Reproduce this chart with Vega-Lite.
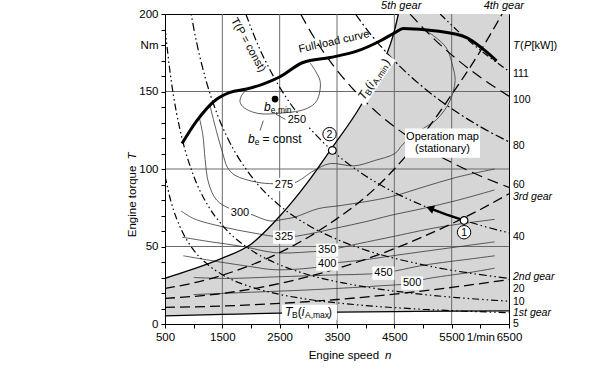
{
"$schema":"https://vega.github.io/schema/vega-lite/v6.json",
"width":344,"height":310,
"autosize":{"type":"none"},
"padding":{"left":165,"top":14,"right":104,"bottom":48},
"background":"white",
"config":{"view":{"stroke":"black","strokeWidth":1},"font":"Liberation Sans","text":{"font":"Liberation Sans","fontSize":11,"color":"black"}},
"datasets":{
"area":[{"n":500,"T":29.5,"lo":5.3},{"n":1000,"T":35.5,"lo":5.75},{"n":1500,"T":42.5,"lo":6.2},{"n":2000,"T":51.5,"lo":6.6},{"n":2500,"T":69.5,"lo":7},{"n":3000,"T":92,"lo":7.3},{"n":3400,"T":113,"lo":7.55},{"n":3900,"T":140,"lo":7.75},{"n":4300,"T":168,"lo":7.9},{"n":4500,"T":189,"lo":8},{"n":4570,"T":200,"lo":8.02},{"n":5000,"T":200,"lo":8.15},{"n":5500,"T":200,"lo":8.3},{"n":6000,"T":200,"lo":8.4},{"n":6500,"T":200,"lo":8.5}],
"tb":[{"k":"min","n":500,"T":29.5},{"k":"min","n":1000,"T":35.5},{"k":"min","n":1500,"T":42.5},{"k":"min","n":2000,"T":51.5},{"k":"min","n":2500,"T":69.5},{"k":"min","n":3000,"T":92},{"k":"min","n":3400,"T":113},{"k":"min","n":3900,"T":140},{"k":"min","n":4300,"T":168},{"k":"min","n":4500,"T":189},{"k":"min","n":4570,"T":200},
{"k":"max","n":500,"T":5.3},{"k":"max","n":1500,"T":6.2},{"k":"max","n":2500,"T":7},{"k":"max","n":3500,"T":7.6},{"k":"max","n":4500,"T":8},{"k":"max","n":5500,"T":8.3},{"k":"max","n":6500,"T":8.5}],
"gear":[{"g":2,"n":500,"T":10.7},{"g":2,"n":1500,"T":11.6},{"g":2,"n":2500,"T":13.3},{"g":2,"n":3500,"T":15.8},{"g":2,"n":4500,"T":19.3},{"g":2,"n":5500,"T":23.6},{"g":2,"n":6500,"T":28.7},
{"g":3,"n":500,"T":16.5},{"g":3,"n":1500,"T":19.7},{"g":3,"n":2500,"T":26.1},{"g":3,"n":3500,"T":35.8},{"g":3,"n":4500,"T":48.6},{"g":3,"n":5000,"T":56.3},{"g":3,"n":5500,"T":64.7},{"g":3,"n":6000,"T":73.9},{"g":3,"n":6500,"T":84},
{"g":4,"n":500,"T":23},{"g":4,"n":1000,"T":26.5},{"g":4,"n":1500,"T":31.5},{"g":4,"n":2000,"T":38},{"g":4,"n":2500,"T":46},{"g":4,"n":3000,"T":56},{"g":4,"n":3500,"T":68},{"g":4,"n":4000,"T":82},{"g":4,"n":4500,"T":100},{"g":4,"n":5000,"T":122},{"g":4,"n":5500,"T":148},{"g":4,"n":6000,"T":176},{"g":4,"n":6380,"T":200}],
"full":[{"n":797,"T":116.4},{"n":1053,"T":131},{"n":1400,"T":145},{"n":1634,"T":149.4},{"n":1925,"T":151.6},{"n":2210,"T":154.8},{"n":2506,"T":159.5},{"n":2907,"T":168.7},{"n":3380,"T":171.9},{"n":3844,"T":176},{"n":4250,"T":182.6},{"n":4512,"T":188},{"n":4657,"T":190.7},{"n":5237,"T":189},{"n":5760,"T":184.8},{"n":6050,"T":177.3},{"n":6283,"T":169.8}],
"hyp":[{"P":5,"n":500,"T":95.5},{"P":5,"n":600,"T":79.6},{"P":5,"n":700,"T":68.2},{"P":5,"n":800,"T":59.7},{"P":5,"n":1000,"T":47.7},{"P":5,"n":1250,"T":38.2},{"P":5,"n":1500,"T":31.8},{"P":5,"n":2000,"T":23.9},{"P":5,"n":2500,"T":19.1},{"P":5,"n":3000,"T":15.9},{"P":5,"n":4000,"T":11.9},{"P":5,"n":5000,"T":9.5},{"P":5,"n":6500,"T":7.3},
{"P":10,"n":500,"T":191},{"P":10,"n":600,"T":159.2},{"P":10,"n":700,"T":136.4},{"P":10,"n":800,"T":119.4},{"P":10,"n":1000,"T":95.5},{"P":10,"n":1250,"T":76.4},{"P":10,"n":1500,"T":63.7},{"P":10,"n":2000,"T":47.7},{"P":10,"n":2500,"T":38.2},{"P":10,"n":3000,"T":31.8},{"P":10,"n":4000,"T":23.9},{"P":10,"n":5000,"T":19.1},{"P":10,"n":6500,"T":14.7},
{"P":20,"n":955,"T":200},{"P":20,"n":1050,"T":181.9},{"P":20,"n":1200,"T":159.2},{"P":20,"n":1400,"T":136.4},{"P":20,"n":1600,"T":119.4},{"P":20,"n":2000,"T":95.5},{"P":20,"n":2500,"T":76.4},{"P":20,"n":3000,"T":63.7},{"P":20,"n":3500,"T":54.6},{"P":20,"n":4000,"T":47.7},{"P":20,"n":5000,"T":38.2},{"P":20,"n":6500,"T":29.4},
{"P":40,"n":1910,"T":200},{"P":40,"n":2100,"T":181.9},{"P":40,"n":2400,"T":159.2},{"P":40,"n":2800,"T":136.4},{"P":40,"n":3200,"T":119.4},{"P":40,"n":3600,"T":106.1},{"P":40,"n":4000,"T":95.5},{"P":40,"n":4500,"T":84.9},{"P":40,"n":5000,"T":76.4},{"P":40,"n":5500,"T":69.4},{"P":40,"n":6000,"T":63.7},{"P":40,"n":6500,"T":58.8},
{"P":60,"n":2865,"T":200},{"P":60,"n":3100,"T":184.8},{"P":60,"n":3400,"T":168.5},{"P":60,"n":3800,"T":150.8},{"P":60,"n":4200,"T":136.4},{"P":60,"n":4700,"T":121.9},{"P":60,"n":5200,"T":110.2},{"P":60,"n":5800,"T":98.8},{"P":60,"n":6500,"T":88.1},
{"P":80,"n":3820,"T":200},{"P":80,"n":4100,"T":186.3},{"P":80,"n":4500,"T":169.8},{"P":80,"n":5000,"T":152.8},{"P":80,"n":5500,"T":138.9},{"P":80,"n":6000,"T":127.3},{"P":80,"n":6500,"T":117.5},
{"P":100,"n":4775,"T":200},{"P":100,"n":5000,"T":191},{"P":100,"n":5500,"T":173.6},{"P":100,"n":6000,"T":159.2},{"P":100,"n":6500,"T":146.9},
{"P":111,"n":5300,"T":200},{"P":111,"n":5600,"T":189.3},{"P":111,"n":6000,"T":176.7},{"P":111,"n":6500,"T":163.1}],
"cont":[{"b":250,"n":1925,"T":151.3},{"b":250,"n":1830,"T":147},{"b":250,"n":1810,"T":143},{"b":250,"n":1880,"T":139.5},{"b":250,"n":2050,"T":136.5},{"b":250,"n":2210,"T":135.5},{"b":250,"n":2500,"T":136},{"b":250,"n":2855,"T":137.6},{"b":250,"n":3050,"T":140.5},{"b":250,"n":3146,"T":144},{"b":250,"n":3200,"T":150},{"b":250,"n":3204,"T":157},{"b":250,"n":3120,"T":163.5},{"b":250,"n":3029,"T":168.5},
{"b":275,"n":1280,"T":141.5},{"b":275,"n":1400,"T":124},{"b":275,"n":1500,"T":111},{"b":275,"n":1590,"T":101},{"b":275,"n":1720,"T":96},{"b":275,"n":2100,"T":91.5},{"b":275,"n":2400,"T":90.5},{"b":275,"n":2750,"T":91},{"b":275,"n":3100,"T":99},{"b":275,"n":3380,"T":103.5},{"b":275,"n":3800,"T":102},{"b":275,"n":4160,"T":105.5},{"b":275,"n":4510,"T":110},{"b":275,"n":4650,"T":116},{"b":275,"n":5000,"T":126},{"b":275,"n":5240,"T":132},{"b":275,"n":5470,"T":144},{"b":275,"n":5560,"T":157},{"b":275,"n":5520,"T":166},{"b":275,"n":5410,"T":178},{"b":275,"n":5200,"T":185.5},{"b":275,"n":5035,"T":189.5},
{"b":300,"n":1100,"T":133},{"b":300,"n":1160,"T":122},{"b":300,"n":1200,"T":106},{"b":300,"n":1260,"T":91},{"b":300,"n":1400,"T":80},{"b":300,"n":1630,"T":74.5},{"b":300,"n":1980,"T":71},{"b":300,"n":2330,"T":66.5},{"b":300,"n":2560,"T":67.5},{"b":300,"n":2770,"T":69},{"b":300,"n":3170,"T":74.4},{"b":300,"n":3580,"T":76.5},{"b":300,"n":4430,"T":82},{"b":300,"n":5000,"T":88.3},{"b":300,"n":5590,"T":94.7},{"b":300,"n":6250,"T":100},
{"b":325,"n":780,"T":73},{"b":325,"n":1000,"T":68},{"b":325,"n":1517,"T":62.6},{"b":325,"n":2000,"T":59},{"b":325,"n":2576,"T":56},{"b":325,"n":3000,"T":58},{"b":325,"n":3500,"T":62},{"b":325,"n":4000,"T":66},{"b":325,"n":4425,"T":70},{"b":325,"n":5006,"T":74.6},{"b":325,"n":5588,"T":79.7},{"b":325,"n":6250,"T":86.5},
{"b":350,"n":800,"T":56},{"b":350,"n":1300,"T":53},{"b":350,"n":1860,"T":50},{"b":350,"n":2420,"T":46},{"b":350,"n":3000,"T":46.5},{"b":350,"n":3330,"T":47.6},{"b":350,"n":3900,"T":52},{"b":350,"n":4425,"T":56},{"b":350,"n":5297,"T":62.6},{"b":350,"n":6250,"T":67.5},
{"b":400,"n":820,"T":44},{"b":400,"n":1460,"T":40},{"b":400,"n":2000,"T":37},{"b":400,"n":2420,"T":35},{"b":400,"n":3170,"T":36.8},{"b":400,"n":3330,"T":38.6},{"b":400,"n":4000,"T":41.5},{"b":400,"n":4542,"T":44.4},{"b":400,"n":5588,"T":49.7},{"b":400,"n":6250,"T":53},
{"b":450,"n":1000,"T":30},{"b":450,"n":1576,"T":29.4},{"b":450,"n":2506,"T":30.5},{"b":450,"n":3300,"T":31.5},{"b":450,"n":4310,"T":33},{"b":450,"n":5006,"T":37.9},{"b":450,"n":5878,"T":42.2},{"b":450,"n":6250,"T":44},
{"b":500,"n":1000,"T":19},{"b":500,"n":2000,"T":20.5},{"b":500,"n":3000,"T":22},{"b":500,"n":4200,"T":24.5},{"b":500,"n":4810,"T":26.4},{"b":500,"n":5006,"T":28.7},{"b":500,"n":5878,"T":33.6},{"b":500,"n":6250,"T":36}],
"lead":[{"id":"a","n":2430,"T":135.5},{"id":"a","n":2600,"T":132},{"id":"b","n":2215,"T":131.2},{"id":"b","n":2157,"T":124.8}],
"numlab":[{"t":"250","n":2800,"T":131.8},{"t":"275","n":2576,"T":90},{"t":"300","n":1808,"T":71.6},{"t":"325","n":2576,"T":56},{"t":"350","n":3330,"T":47.6},{"t":"400","n":3330,"T":38.6},{"t":"450","n":4310,"T":32.8},{"t":"500","n":4810,"T":26.4}],
"rlab":[{"t":"111","n":6500,"T":161.5},{"t":"100","n":6500,"T":144.7},{"t":"80","n":6500,"T":115},{"t":"60","n":6500,"T":89.4},{"t":"40","n":6500,"T":56.1},{"t":"20","n":6500,"T":22.9},{"t":"10","n":6500,"T":14.2},{"t":"5","n":6500,"T":0.3}],
"glab":[{"t":"3rd gear","n":6500,"T":81.7},{"t":"2nd gear","n":6500,"T":30.6},{"t":"1st gear","n":6500,"T":7.2}],
"tlab":[{"t":"5th gear","n":4620,"T":203},{"t":"4th gear","n":6410,"T":203}],
"tbl":[{"k":"min","sub":"A,min","n":3912,"T":145.4},{"k":"max","sub":"A,max","n":2593,"T":8}],
"tbbox":[{"k":"min","n":4145,"T":158.2},{"k":"max","n":3020,"T":7.6}]
},
"encoding":{
 "x":{"field":"n","type":"quantitative","scale":{"domain":[500,6500],"nice":false,"zero":false},
  "axis":{"values":[500,1000,1500,2000,2500,3000,3500,4000,4500,5000,5500,6000,6500],"format":"d","labelExpr":"datum.value==6000?'1/min':(datum.value%1000==500?datum.label:'')","grid":false,"tickSize":4,"tickColor":"black","domainColor":"black","labelColor":"black","labelFontSize":11.5,"labelPadding":3,"labelFlush":false,"labelOverlap":false,"title":null,"zindex":1}},
 "y":{"field":"T","type":"quantitative","scale":{"domain":[0,200],"nice":false,"zero":false},
  "axis":{"values":[0,10,20,30,40,50,60,70,80,90,100,110,120,130,140,150,160,170,180,190,200],"format":"d","labelExpr":"datum.value==180?'Nm':(datum.value%50==0?datum.label:'')","grid":false,"tickSize":4,"tickColor":"black","domainColor":"black","labelColor":"black","labelFontSize":11.5,"labelPadding":3,"labelFlush":false,"labelOverlap":false,"title":null,"zindex":1}}
},
"layer":[
{"data":{"name":"area"},"mark":{"type":"area","color":"#d6d6d6","interpolate":"monotone"},"encoding":{"y2":{"field":"lo"}}},
{"data":{"values":[{"n":1500,"T":0,"T2":200},{"n":2500,"T":0,"T2":200},{"n":3500,"T":0,"T2":200},{"n":4500,"T":0,"T2":200},{"n":5500,"T":0,"T2":200}]},"mark":{"type":"rule","color":"#6a6a6a","strokeWidth":1},"encoding":{"y2":{"field":"T2"}}},
{"data":{"values":[{"T":50,"n":500,"n2":6500},{"T":100,"n":500,"n2":6500},{"T":150,"n":500,"n2":6500}]},"mark":{"type":"rule","color":"#6a6a6a","strokeWidth":1},"encoding":{"x2":{"field":"n2"}}},
{"data":{"name":"cont"},"mark":{"type":"line","color":"#333","strokeWidth":0.8,"interpolate":"catmull-rom","clip":true},
 "encoding":{"detail":{"field":"b"},"order":{"value":null}}},
{"data":{"name":"hyp"},"mark":{"type":"line","color":"black","strokeWidth":1.2,"interpolate":"monotone","clip":true},
 "encoding":{"strokeDash":{"field":"P","type":"ordinal","scale":{"domain":[5,10,20,40,60,80,100,111],"range":[[7,3,1.5,3,1.5,3],[7,3,1.5,3,1.5,3],[1.5,3,1.5,3,8,3],[8,3,1.5,3,1.5,3],[11,6],[9,3,2,3],[11,6],[7,3,1.5,3,1.5,3]]},"legend":null}}},
{"data":{"name":"gear"},"mark":{"type":"line","color":"black","strokeWidth":1.3,"strokeDash":[10,5],"interpolate":"monotone","clip":true},
 "encoding":{"detail":{"field":"g"}}},
{"data":{"name":"tb"},"mark":{"type":"line","color":"black","strokeWidth":1.3,"interpolate":"monotone","clip":true},
 "encoding":{"detail":{"field":"k"}}},
{"data":{"name":"full"},"mark":{"type":"line","color":"black","strokeWidth":3,"interpolate":"monotone","clip":true}},
{"data":{"values":[{"n":5716,"T":66.8},{"n":5400,"T":70.7},{"n":5122,"T":74.6}]},"mark":{"type":"line","color":"black","strokeWidth":2.3}},
{"data":{"values":[{"n":5122,"T":74.6}]},"mark":{"type":"point","shape":"triangle-left","filled":true,"color":"black","opacity":1,"size":80,"angle":19}},
{"data":{"name":"lead"},"mark":{"type":"line","color":"#333","strokeWidth":0.8},
 "encoding":{"detail":{"field":"id"},"order":{"value":null}}},
{"data":{"name":"numlab"},"mark":{"type":"point","shape":"M-1,-0.6H1V0.6H-1Z","filled":true,"color":"white","opacity":1,"size":484,"strokeWidth":0}},
{"data":{"values":[{"n":5340,"T":116.7}]},"mark":{"type":"point","shape":"M-1,-0.387H1V0.387H-1Z","filled":true,"color":"white","opacity":1,"size":5625,"strokeWidth":0}},
{"data":{"name":"tbbox"},"mark":{"type":"point","shape":"M-1,-0.273H1V0.273H-1Z","filled":true,"color":"white","opacity":1,"size":3025,"strokeWidth":0},
 "encoding":{"angle":{"condition":{"test":"datum.k=='min'","value":-56},"value":0}}},
{"data":{"name":"numlab"},"mark":{"type":"text","fontSize":11,"align":"center","baseline":"middle"},"encoding":{"text":{"field":"t"}}},
{"data":{"values":[{"t":"Operation map","n":5340,"T":120.6},{"t":"(stationary)","n":5340,"T":112.6}]},"mark":{"type":"text","fontSize":11,"align":"center","baseline":"middle"},"encoding":{"text":{"field":"t"}}},
{"data":{"values":[{"t":"Full-load curve","n":3448,"T":182}]},"mark":{"type":"text","fontSize":11,"align":"center","baseline":"middle","angle":-12.5},"encoding":{"text":{"field":"t"}}},
{"data":{"values":[{"t":"T(P = const)","n":1948,"T":180}]},"mark":{"type":"text","fontSize":11,"align":"center","baseline":"middle","angle":61},"encoding":{"text":{"field":"t"}}},
{"data":{"name":"rlab"},"mark":{"type":"text","fontSize":10.5,"align":"left","baseline":"middle","dx":4},"encoding":{"text":{"field":"t"}}},
{"data":{"name":"glab"},"mark":{"type":"text","fontSize":10.5,"fontStyle":"italic","align":"left","baseline":"middle","dx":4},"encoding":{"text":{"field":"t"}}},
{"data":{"name":"tlab"},"mark":{"type":"text","fontSize":11,"fontStyle":"italic","align":"center","baseline":"alphabetic"},"encoding":{"text":{"field":"t"}}},
{"data":{"values":[{"t":"T","n":6500,"T":179.4}]},"mark":{"type":"text","fontSize":11,"fontStyle":"italic","align":"left","baseline":"middle","dx":4},"encoding":{"text":{"field":"t"}}},
{"data":{"values":[{"t":"(","n":6500,"T":179.4}]},"mark":{"type":"text","fontSize":11,"align":"left","baseline":"middle","dx":11},"encoding":{"text":{"field":"t"}}},
{"data":{"values":[{"t":"P","n":6500,"T":179.4}]},"mark":{"type":"text","fontSize":11,"fontStyle":"italic","align":"left","baseline":"middle","dx":15},"encoding":{"text":{"field":"t"}}},
{"data":{"values":[{"t":"[kW])","n":6500,"T":179.4}]},"mark":{"type":"text","fontSize":11,"align":"left","baseline":"middle","dx":22.5},"encoding":{"text":{"field":"t"}}},
{"data":{"values":[{"t":"b","n":2227,"T":140.2},{"t":"b","n":1948,"T":119.6}]},"mark":{"type":"text","fontSize":12,"fontStyle":"italic","align":"left","baseline":"middle"},"encoding":{"text":{"field":"t"}}},
{"data":{"values":[{"t":"e,min","n":2227,"T":140.2},{"t":"e","n":1948,"T":119.6}]},"mark":{"type":"text","fontSize":8.5,"align":"left","baseline":"middle","dx":6.8,"dy":3},"encoding":{"text":{"field":"t"}}},
{"data":{"values":[{"t":"= const","n":1948,"T":119.6}]},"mark":{"type":"text","fontSize":12,"align":"left","baseline":"middle","dx":14.5},"encoding":{"text":{"field":"t"}}},
{"data":{"name":"tbl"},"mark":{"type":"text","fontSize":12,"fontStyle":"italic","align":"left","baseline":"middle","text":"T"},
 "encoding":{"angle":{"condition":{"test":"datum.k=='min'","value":-56},"value":0}}},
{"data":{"name":"tbl"},"mark":{"type":"text","fontSize":8.5,"align":"left","baseline":"middle","text":"B","dx":7,"dy":3},
 "encoding":{"angle":{"condition":{"test":"datum.k=='min'","value":-56},"value":0}}},
{"data":{"name":"tbl"},"mark":{"type":"text","fontSize":12,"align":"left","baseline":"middle","text":"(","dx":12.7},
 "encoding":{"angle":{"condition":{"test":"datum.k=='min'","value":-56},"value":0}}},
{"data":{"name":"tbl"},"mark":{"type":"text","fontSize":12,"fontStyle":"italic","align":"left","baseline":"middle","text":"i","dx":16.7},
 "encoding":{"angle":{"condition":{"test":"datum.k=='min'","value":-56},"value":0}}},
{"data":{"name":"tbl"},"mark":{"type":"text","fontSize":8.5,"align":"left","baseline":"middle","dx":20,"dy":3},
 "encoding":{"text":{"field":"sub"},"angle":{"condition":{"test":"datum.k=='min'","value":-56},"value":0}}},
{"data":{"name":"tbl"},"mark":{"type":"text","fontSize":12,"align":"left","baseline":"middle","text":")","dx":43},
 "encoding":{"angle":{"condition":{"test":"datum.k=='min'","value":-56},"value":0}}},
{"data":{"values":[{"t":"Engine speed","n":4268,"T":-20.6}]},"mark":{"type":"text","fontSize":11.5,"align":"right","baseline":"middle","dx":-2},"encoding":{"text":{"field":"t"}}},
{"data":{"values":[{"t":"n","n":4268,"T":-20.6}]},"mark":{"type":"text","fontSize":11.5,"fontStyle":"italic","align":"left","baseline":"middle","dx":4},"encoding":{"text":{"field":"t"}}},
{"data":{"values":[{"t":"Engine torque","n":-50,"T":103.5}]},"mark":{"type":"text","fontSize":11.5,"align":"right","baseline":"middle","angle":-90,"dx":-2},"encoding":{"text":{"field":"t"}}},
{"data":{"values":[{"t":"T","n":-50,"T":103.5}]},"mark":{"type":"text","fontSize":11.5,"fontStyle":"italic","align":"left","baseline":"middle","angle":-90,"dx":4},"encoding":{"text":{"field":"t"}}},
{"data":{"values":[{"n":2419,"T":145.1}]},"mark":{"type":"point","shape":"circle","filled":true,"color":"black","opacity":1,"size":45}},
{"data":{"values":[{"n":3419,"T":112},{"n":5716,"T":66.8}]},"mark":{"type":"point","shape":"circle","filled":true,"fill":"white","stroke":"black","strokeWidth":1.2,"opacity":1,"size":60}},
{"data":{"values":[{"t":"2","n":3370,"T":122.5},{"t":"1","n":5716,"T":59.2}]},"mark":{"type":"point","shape":"circle","filled":true,"fill":"white","stroke":"black","strokeWidth":1,"opacity":1,"size":180}},
{"data":{"values":[{"t":"2","n":3370,"T":122.5},{"t":"1","n":5716,"T":59.2}]},"mark":{"type":"text","fontSize":10.5,"align":"center","baseline":"middle","dy":0.5},"encoding":{"text":{"field":"t"}}}
]
}
